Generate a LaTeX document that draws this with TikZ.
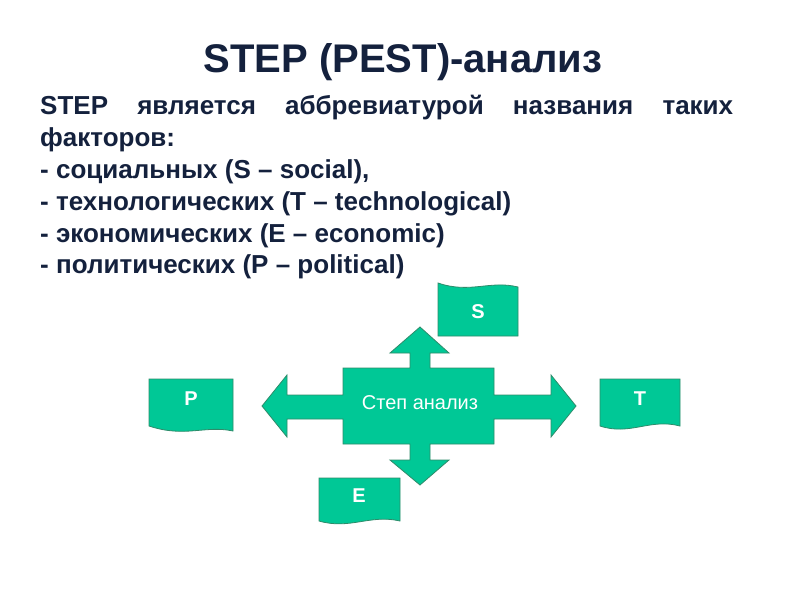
\documentclass[tikz,border=0pt]{standalone}
\usepackage{fontspec}
\setmainfont{Liberation Sans}
\definecolor{gfill}{HTML}{00C896}
\definecolor{gline}{HTML}{2E8B6A}
\definecolor{navy}{HTML}{14213D}
\begin{document}
\begin{tikzpicture}[x=1pt,y=-1pt,
  shp/.style={fill=gfill,draw=gline,line width=0.8pt},
  lbl/.style={text=white,font=\bfseries\fontsize{20}{24}\selectfont},
  body/.style={anchor=west,inner sep=0pt,text=navy,font=\bfseries\fontsize{26}{30}\selectfont}]
\useasboundingbox[fill=white] (0,0) rectangle (800,600);
\node[text=navy,font=\bfseries\fontsize{40}{46}\selectfont] (title) at (403,62) {STEP (PEST)-анализ};
\node[body] (l1) at (40,108) {\makebox[693pt][s]{STEP является аббревиатурой названия таких}};
\node[body] (l2) at (40,140) {факторов:};
\node[body] (l3) at (40,172) {- социальных (S – social),};
\node[body] (l4) at (40,204) {- технологических (T – technological)};
\node[body] (l5) at (40,236) {- экономических (E – economic)};
\node[body] (l6) at (40,267) {- политических (P – political)};
% central cross arrow
\draw[shp] (343,368) -- (410,368) -- (410,353) -- (390,353) -- (420,327) -- (449,353) -- (430,353) -- (430,368)
  -- (494,368) -- (494,395) -- (551,395) -- (551,375) -- (576,406) -- (551,437) -- (551,419) -- (494,419)
  -- (494,444) -- (430,444) -- (430,460) -- (449,460) -- (420,485) -- (390,460) -- (410,460) -- (410,444)
  -- (343,444) -- (343,419) -- (287,419) -- (287,437) -- (262,406) -- (287,375) -- (287,395) -- (343,395) -- cycle;
\node[text=white,font=\fontsize{20}{24}\selectfont] (c) at (420,403) {Степ анализ};
% documents
\draw[shp] (149,379) -- (233,379) -- (233,431) .. controls (205,425) and (185,438) .. (149,426) -- cycle;
\node[lbl] (P) at (191,399) {P};
\draw[shp] (600,379) -- (680,379) -- (680,426) .. controls (650,418) and (630,436) .. (600,426) -- cycle;
\node[lbl] (T) at (640,399) {T};
\draw[shp] (319,478) -- (400,478) -- (400,521) .. controls (370,514) and (350,530) .. (319,521) -- cycle;
\node[lbl] (E) at (359,496) {E};
\draw[shp] (438,336) -- (518,336) -- (518,287) .. controls (490,280) and (470,294) .. (438,283) -- cycle;
\node[lbl] (S) at (478,312) {S};
\end{tikzpicture}
\end{document}
